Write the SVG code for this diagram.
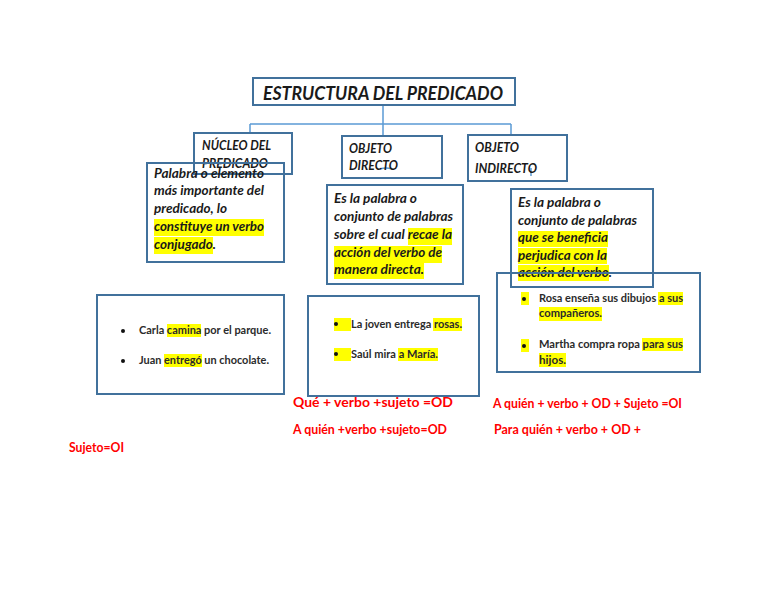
<svg xmlns="http://www.w3.org/2000/svg" width="768" height="594" viewBox="0 0 768 594">
<style>
.box{fill:none;stroke:#41719C;stroke-width:2}
.hl{fill:#FFFF00}
.hd{font-family:Lato,"Liberation Sans",sans-serif;font-weight:bold;font-style:italic;fill:#1a1a1a}
.ds{font-family:Lato,"Liberation Sans",sans-serif;font-weight:bold;font-style:italic;font-size:13px;fill:#1a1a1a}
.ex{font-family:Lato,"Liberation Sans",sans-serif;font-weight:bold;font-size:10.5px;fill:#2b2b2b}
.rd{font-family:Lato,"Liberation Sans",sans-serif;font-weight:bold;font-size:13px;fill:#FF0000}
.bul{fill:#111}
.con{fill:none;stroke:#5B9BD5;stroke-width:1.5}
</style>
<rect width="768" height="594" fill="#ffffff"/>
<g id="connectors">
<path class="con" d="M383 105V124M250 124H511M250 124V133M383 124V136M511 124V135"/>
<path class="con" d="M380 169Q386 167 392 169"/>
<path class="con" d="M531 168V176"/>
</g>
<g id="title">
<rect class="box" x="253" y="78" width="262" height="27"/>
<text class="hd" x="263" y="100" font-size="18" textLength="240" lengthAdjust="spacingAndGlyphs">ESTRUCTURA DEL PREDICADO</text>
</g>
<g id="nucleo">
<rect class="box" x="194" y="133" width="98" height="41"/>
<text class="hd" font-size="12.5" x="202" y="150" textLength="69" lengthAdjust="spacingAndGlyphs">NÚCLEO DEL</text>
<text class="hd" font-size="12.5" x="202" y="168" textLength="66" lengthAdjust="spacingAndGlyphs">PREDICADO</text>
</g>
<g id="objeto-directo">
<rect class="box" x="342" y="136" width="100" height="42"/>
<text class="hd" font-size="12.5" x="349" y="153" textLength="43" lengthAdjust="spacingAndGlyphs">OBJETO</text>
<text class="hd" font-size="12.5" x="349" y="170" textLength="49" lengthAdjust="spacingAndGlyphs">DIRECTO</text>
</g>
<g id="objeto-indirecto">
<rect class="box" x="468" y="135" width="99" height="46"/>
<text class="hd" font-size="12.5" x="475" y="152" textLength="44" lengthAdjust="spacingAndGlyphs">OBJETO</text>
<text class="hd" font-size="12.5" x="475" y="173" textLength="62" lengthAdjust="spacingAndGlyphs">INDIRECTO</text>
</g>
<g id="def-nucleo">
<rect class="hl" x="154" y="219" width="110" height="17"/>
<rect class="hl" x="154" y="237" width="59" height="17"/>
<rect class="box" x="147" y="163" width="137" height="99"/>
<text class="ds" x="154" y="178" textLength="110" lengthAdjust="spacingAndGlyphs">Palabra o elemento</text>
<text class="ds" x="154" y="195" textLength="110" lengthAdjust="spacingAndGlyphs">más importante del</text>
<text class="ds" x="154" y="213" textLength="73" lengthAdjust="spacingAndGlyphs">predicado, lo</text>
<text class="ds" x="154" y="231" textLength="110" lengthAdjust="spacingAndGlyphs">constituye un verbo</text>
<text class="ds" x="154" y="249" textLength="62" lengthAdjust="spacingAndGlyphs">conjugado.</text>
</g>
<g id="def-directo">
<rect class="hl" x="408" y="228" width="44" height="17"/>
<rect class="hl" x="334" y="246" width="108" height="17"/>
<rect class="hl" x="334" y="263" width="90" height="16"/>
<rect class="box" x="327" y="185" width="136" height="99"/>
<text class="ds" x="334" y="203" textLength="83" lengthAdjust="spacingAndGlyphs">Es la palabra o</text>
<text class="ds" x="334" y="221" textLength="119" lengthAdjust="spacingAndGlyphs">conjunto de palabras</text>
<text class="ds" x="334" y="239" textLength="118" lengthAdjust="spacingAndGlyphs">sobre el cual recae la</text>
<text class="ds" x="334" y="257" textLength="108" lengthAdjust="spacingAndGlyphs">acción del verbo de</text>
<text class="ds" x="334" y="274" textLength="90" lengthAdjust="spacingAndGlyphs">manera directa.</text>
</g>
<g id="def-indirecto">
<rect class="hl" x="518" y="231" width="90" height="16"/>
<rect class="hl" x="518" y="248" width="89" height="16"/>
<rect class="hl" x="518" y="265" width="91" height="16"/>
<rect class="box" x="511" y="189" width="142" height="98"/>
<text class="ds" x="518" y="207" textLength="83" lengthAdjust="spacingAndGlyphs">Es la palabra o</text>
<text class="ds" x="518" y="225" textLength="119" lengthAdjust="spacingAndGlyphs">conjunto de palabras</text>
<text class="ds" x="518" y="242" textLength="90" lengthAdjust="spacingAndGlyphs">que se beneficia</text>
<text class="ds" x="518" y="260" textLength="89" lengthAdjust="spacingAndGlyphs">perjudica con la</text>
<text class="ds" x="518" y="277" textLength="94" lengthAdjust="spacingAndGlyphs">acción del verbo.</text>
</g>
<g id="ejemplos-nucleo">
<rect class="box" x="97" y="295" width="187" height="99"/>
<rect class="hl" x="167" y="324" width="34" height="13"/>
<rect class="hl" x="164" y="354" width="38" height="13"/>
<circle class="bul" cx="123" cy="331" r="2"/>
<circle class="bul" cx="123" cy="361" r="2"/>
<text class="ex" x="139" y="334" textLength="132" lengthAdjust="spacingAndGlyphs">Carla camina por el parque.</text>
<text class="ex" x="139" y="364" textLength="130" lengthAdjust="spacingAndGlyphs">Juan entregó un chocolate.</text>
</g>
<g id="ejemplos-directo">
<rect class="box" x="308" y="296" width="171" height="100"/>
<rect class="hl" x="334" y="318" width="17" height="13"/>
<rect class="hl" x="433" y="318" width="29" height="13"/>
<rect class="hl" x="334" y="348" width="17" height="13"/>
<rect class="hl" x="398" y="348" width="40" height="13"/>
<circle class="bul" cx="336" cy="324" r="2"/>
<circle class="bul" cx="336" cy="354" r="2"/>
<text class="ex" x="351" y="328" textLength="111" lengthAdjust="spacingAndGlyphs">La joven entrega rosas.</text>
<text class="ex" x="351" y="358" textLength="87" lengthAdjust="spacingAndGlyphs">Saúl mira a María.</text>
</g>
<g id="ejemplos-indirecto">
<rect class="box" x="497" y="273" width="203" height="99"/>
<rect class="hl" x="521" y="292" width="8" height="13"/>
<rect class="hl" x="658" y="292" width="25" height="13"/>
<rect class="hl" x="539" y="307" width="63" height="14"/>
<rect class="hl" x="521" y="339" width="8" height="13"/>
<rect class="hl" x="642" y="338" width="41" height="13"/>
<rect class="hl" x="539" y="353" width="27" height="14"/>
<circle class="bul" cx="524" cy="299" r="2"/>
<circle class="bul" cx="524" cy="346" r="2"/>
<text class="ex" x="539" y="302" textLength="144" lengthAdjust="spacingAndGlyphs">Rosa enseña sus dibujos a sus</text>
<text class="ex" x="539" y="317" textLength="63" lengthAdjust="spacingAndGlyphs">compañeros.</text>
<text class="ex" x="539" y="348" textLength="144" lengthAdjust="spacingAndGlyphs">Martha compra ropa para sus</text>
<text class="ex" x="539" y="364" textLength="27" lengthAdjust="spacingAndGlyphs">hijos.</text>
</g>
<g id="formulas">
<text class="rd" x="293" y="407" font-size="16" textLength="160" lengthAdjust="spacingAndGlyphs">Qué + verbo +sujeto =OD</text>
<text class="rd" x="493" y="408" textLength="189" lengthAdjust="spacingAndGlyphs">A quién + verbo + OD + Sujeto =OI</text>
<text class="rd" x="293" y="434" textLength="154" lengthAdjust="spacingAndGlyphs">A quién +verbo +sujeto=OD</text>
<text class="rd" x="494" y="434" textLength="147" lengthAdjust="spacingAndGlyphs">Para quién + verbo + OD +</text>
<text class="rd" x="69" y="452" textLength="55" lengthAdjust="spacingAndGlyphs">Sujeto=OI</text>
</g>
</svg>
